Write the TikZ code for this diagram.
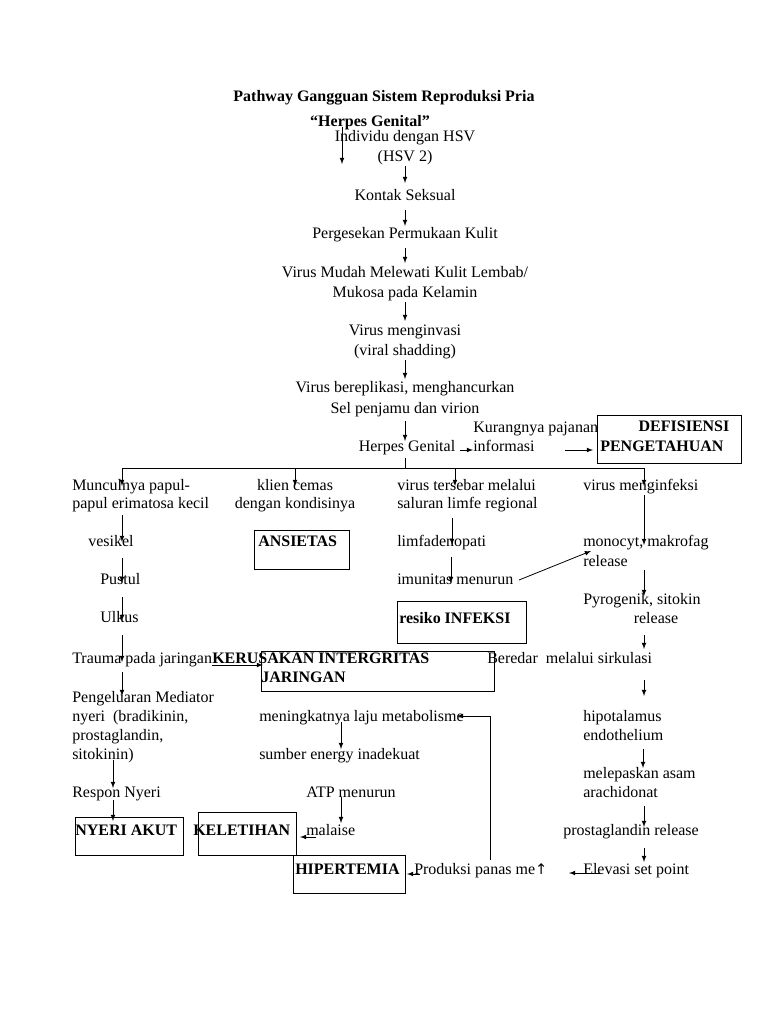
\documentclass[tikz,border=0pt]{standalone}
\usepackage{fontspec}
\setmainfont{Liberation Serif}
\newfontfamily\djv{DejaVu Sans}
\begin{document}
\begin{tikzpicture}[x=0.75pt,y=-0.75pt,font=\fontsize{12}{14}\selectfont,
 t/.style={anchor=base west,inner sep=0},
 c/.style={anchor=base,inner sep=0},
 b/.style={anchor=base west,inner sep=0,font=\fontsize{12}{14}\selectfont\bfseries},
 bx/.style={draw,line width=0.7pt},
 ar/.style={->,>=latex,line width=0.6pt}]
\useasboundingbox (0,0) rectangle (768,1024);
\node[c,font=\fontsize{12}{14}\selectfont\bfseries] (ti) at (384,102) {Pathway Gangguan Sistem Reproduksi Pria};
\node[c,font=\fontsize{12}{14}\selectfont\bfseries] (hg) at (370,126) {“Herpes Genital”};
\node[c] (n1) at (405,142) {Individu dengan HSV};
\node[c] (n1b) at (405,161) {(HSV 2)};
\node[c] (n2) at (405,200) {Kontak Seksual};
\node[c] (n3) at (405,238) {Pergesekan Permukaan Kulit};
\node[c] (n4) at (405,277) {Virus Mudah Melewati Kulit Lembab/};
\node[c] (n4b) at (405,297) {Mukosa pada Kelamin};
\node[c] (n5) at (405,335) {Virus menginvasi};
\node[c] (n5b) at (405,355) {(viral shadding)};
\node[c] (n6) at (405,392) {Virus bereplikasi, menghancurkan};
\node[c] (n6b) at (405,413) {Sel penjamu dan virion};
\node[c] (n7) at (407,451) {Herpes Genital};
\node[t] (k1) at (473,432) {Kurangnya pajanan};
\node[t] (k2) at (473,451) {informasi};
\draw[bx] (597,415) rectangle (741,463);
\node[c,font=\fontsize{12}{14}\selectfont\bfseries] (d1) at (684,431) {DEFISIENSI};
\node[b] (d2) at (600,451) {PENGETAHUAN};
\coordinate (a0) at (342,127); \coordinate (a0e) at (342,164);
\draw[ar] (a0) -- (a0e);
\coordinate (p1) at (405,166); \coordinate (p1e) at (405,183); \draw[ar] (p1) -- (p1e);
\coordinate (p2) at (405,210); \coordinate (p2e) at (405,226); \draw[ar] (p2) -- (p2e);
\coordinate (p3) at (405,248); \coordinate (p3e) at (405,263); \draw[ar] (p3) -- (p3e);
\coordinate (p4) at (405,302); \coordinate (p4e) at (405,321); \draw[ar] (p4) -- (p4e);
\coordinate (p5) at (405,360); \coordinate (p5e) at (405,379); \draw[ar] (p5) -- (p5e);
\coordinate (p6) at (405,421); \coordinate (p6e) at (405,441); \draw[ar] (p6) -- (p6e);
\coordinate (q1) at (460,450); \coordinate (q1e) at (473,450); \draw[ar] (q1) -- (q1e);
\coordinate (q2) at (565,450); \coordinate (q2e) at (593,450); \draw[ar] (q2) -- (q2e);
% branch
\coordinate (br0) at (405,458); \coordinate (brm) at (405,468);
\draw[line width=0.6pt] (br0) -- (brm);
\coordinate (bl) at (122,468); \coordinate (brr) at (644,468);
\draw[line width=0.6pt] (bl) -- (brr);
\coordinate (b1) at (122,486); \coordinate (b2) at (295,486); \coordinate (b2s) at (295,468);
\coordinate (b3) at (455,486); \coordinate (b3s) at (455,468); \coordinate (b4) at (644,486);
\draw[ar] (bl) -- (b1); \draw[ar] (b2s) -- (b2); \draw[ar] (b3s) -- (b3); \draw[ar] (brr) -- (b4);
% row
\node[t] (m1) at (72,490) {Munculnya papul-};
\node[t] (m1b) at (72,508) {papul erimatosa kecil};
\node[c] (kc) at (295,490) {klien cemas};
\node[c] (kc2) at (295,508) {dengan kondisinya};
\node[t] (vt) at (397,490) {virus tersebar melalui};
\node[t] (vt2) at (397,508) {saluran limfe regional};
\node[t] (vm) at (583,490) {virus menginfeksi};
% left column
\node[t] (ve) at (88,546) {vesikel};
\node[t] (pu) at (100,584) {Pustul};
\node[t] (ul) at (100,622) {Ulkus};
\node[t] (tr) at (72,663) {Trauma pada jaringan};
\coordinate (l1) at (122,515); \coordinate (l1e) at (122,542); \draw[ar] (l1) -- (l1e);
\coordinate (l2) at (122,558); \coordinate (l2e) at (122,583); \draw[ar] (l2) -- (l2e);
\coordinate (l3) at (122,597); \coordinate (l3e) at (122,621); \draw[ar] (l3) -- (l3e);
\coordinate (l4) at (122,635); \coordinate (l4e) at (122,662); \draw[ar] (l4) -- (l4e);
\coordinate (l5) at (122,672); \coordinate (l5e) at (122,696); \draw[ar] (l5) -- (l5e);
\node[t] (pm1) at (72,702) {Pengeluaran Mediator};
\node[t] (pm2) at (72,721) {nyeri\ \ (bradikinin,};
\node[t] (pm3) at (72,740) {prostaglandin,};
\node[t] (pm4) at (72,759) {sitokinin)};
\node[t] (rn) at (72,797) {Respon Nyeri};
\coordinate (l6) at (113,760) ; \coordinate (l6e) at (113,788); \draw[ar] (l6) -- (l6e);
\coordinate (l7) at (113,800) ; \coordinate (l7e) at (113,821); \draw[ar] (l7) -- (l7e);
\draw[bx] (75,817) rectangle (183,855);
\node[b] (na) at (75,835) {NYERI AKUT};
\draw[bx] (198,812) rectangle (296,855);
\node[b] (ke) at (193,835) {KELETIHAN};
% ansietas
\draw[bx] (254,530) rectangle (349,569);
\node[b] (an) at (258,546) {ANSIETAS};
% limfe column
\node[t] (lf) at (397,546) {limfadenopati};
\node[t] (im) at (397,584) {imunitas menurun};
\coordinate (c1) at (452,518); \coordinate (c1e) at (452,545); \draw[ar] (c1) -- (c1e);
\coordinate (c2) at (451,557); \coordinate (c2e) at (451,583); \draw[ar] (c2) -- (c2e);
\coordinate (c3) at (519,580); \coordinate (c3e) at (591,551); \draw[ar] (c3) -- (c3e);
\draw[bx] (397,601) rectangle (526,643);
\node[b] (ri) at (399,623) {resiko INFEKSI};
% right column
\node[t] (mo) at (583,546) {monocyt, makrofag};
\node[t] (mo2) at (583,566) {release};
\node[t] (py) at (583,604) {Pyrogenik, sitokin};
\node[c] (py2) at (656,623) {release};
\node[t] (be) at (487,663) {Beredar\ \ melalui sirkulasi};
\node[t] (hi) at (583,721) {hipotalamus};
\node[t] (hi2) at (583,740) {endothelium};
\node[t] (me) at (583,778) {melepaskan asam};
\node[t] (me2) at (583,797) {arachidonat};
\node[t] (pr) at (563,835) {prostaglandin release};
\node[t] (el) at (583,874) {Elevasi set point};
\coordinate (r1) at (644,495); \coordinate (r1e) at (644,545); \draw[ar] (r1) -- (r1e);
\coordinate (r2) at (644,570); \coordinate (r2e) at (644,596); \draw[ar] (r2) -- (r2e);
\coordinate (r3) at (644,635); \coordinate (r3e) at (644,649); \draw[ar] (r3) -- (r3e);
\coordinate (r4) at (644,680); \coordinate (r4e) at (644,696); \draw[ar] (r4) -- (r4e);
\coordinate (r5) at (643,749); \coordinate (r5e) at (643,768); \draw[ar] (r5) -- (r5e);
\coordinate (r6) at (644,806); \coordinate (r6e) at (644,827); \draw[ar] (r6) -- (r6e);
\coordinate (r7) at (644,848); \coordinate (r7e) at (644,862); \draw[ar] (r7) -- (r7e);
\coordinate (r8) at (600,873); \coordinate (r8e) at (569,873); \draw[ar] (r8) -- (r8e);
% kerusakan
\node[b] (kr) at (212,663) {KERUSAKAN INTERGRITAS};
\node[b] (kr2) at (261,682) {JARINGAN};
\draw[bx] (261,651) rectangle (494,691);
\coordinate (kk) at (212,665); \coordinate (kke) at (263,665); \draw[ar] (kk) -- (kke);
% metabolism column
\node[t] (ml) at (259,721) {meningkatnya laju metabolisme};
\node[t] (se) at (259,759) {sumber energy inadekuat};
\node[t] (at) at (306,797) {ATP menurun};
\node[t] (mal) at (306,835) {malaise};
\coordinate (s1) at (341,722); \coordinate (s1e) at (341,749); \draw[ar] (s1) -- (s1e);
\coordinate (s2) at (341,797); \coordinate (s2e) at (341,823); \draw[ar] (s2) -- (s2e);
\coordinate (s3) at (316,837); \coordinate (s3e) at (300,837); \draw[ar] (s3) -- (s3e);
\draw[bx] (293,855) rectangle (405,893);
\node[b] (hp) at (295,874) {HIPERTEMIA};
\node[t] (pp) at (414,874) {Produksi panas me{\djv\fontsize{11}{13}\selectfont ↑}};
\coordinate (u1) at (420,874); \coordinate (u1e) at (407,874); \draw[ar] (u1) -- (u1e);
\coordinate (v0) at (490,860); \coordinate (v1) at (490,716); \coordinate (v2) at (457,716);
\draw[ar] (v0) -- (v1) -- (v2);
\end{tikzpicture}
\end{document}
